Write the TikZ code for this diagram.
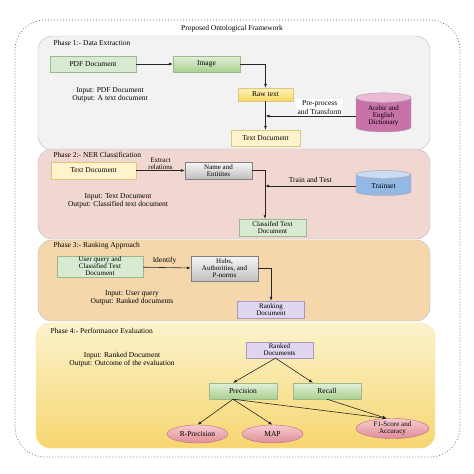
\documentclass[tikz,border=0pt]{standalone}
\usepackage{fontspec}
\setmainfont{Liberation Serif}
\usetikzlibrary{arrows.meta,positioning,calc,shapes.geometric}
\definecolor{phaseone}{HTML}{F2F2F2}
\definecolor{phasetwo}{HTML}{F2D6D1}
\definecolor{phasethree}{HTML}{F4D8AC}
\definecolor{phasefourtop}{HTML}{FCF3CC}
\definecolor{phasefourbot}{HTML}{F6D670}
\definecolor{lightgreen}{HTML}{D9EAD3}
\definecolor{greentop}{HTML}{E2EFDA}
\definecolor{greenbot}{HTML}{A9D18E}
\definecolor{greenline}{HTML}{9DB98C}
\definecolor{lightyellow}{HTML}{FFF3CC}
\definecolor{yellowtop}{HTML}{FFF2B8}
\definecolor{yellowbot}{HTML}{F7D865}
\definecolor{yellowline}{HTML}{D9C782}
\definecolor{lavender}{HTML}{E0D6F0}
\definecolor{lavline}{HTML}{A898C0}
\definecolor{pinktop}{HTML}{F6CBD0}
\definecolor{pinkbot}{HTML}{E08C98}
\definecolor{pinkline}{HTML}{B87080}
\definecolor{dictbody}{HTML}{C872AA}
\definecolor{dictend}{HTML}{EBB8D6}
\definecolor{trainbody}{HTML}{93B8E4}
\definecolor{trainend}{HTML}{C9DCF3}
\tikzset{
  flowarr/.style={-{Latex[length=4pt,width=3pt]}, draw=black!85, line width=0.6pt},
  flowbox/.style={draw=gray!60, align=center, inner sep=1pt, minimum width=67pt, minimum height=16pt},
  phasebox/.style={draw=gray!55, rounded corners=14pt},
  flowsmall/.style={font=\fontsize{7}{7}\selectfont},
}

\begin{document}
\begin{tikzpicture}[
  x=1pt, y=-1pt,
  font=\fontsize{7.5}{8.3}\selectfont,
  greenbox/.style={flowbox, draw=greenline, top color=greentop, bottom color=greenbot},
  graybox/.style={flowbox, draw=gray, top color=gray!6, bottom color=gray!50},
  store/.style={cylinder, shape border rotate=90, aspect=0.25, draw=gray!70, align=center, cylinder uses custom fill},
  result/.style={ellipse, draw=pinkline, top color=pinktop, bottom color=pinkbot, align=center, inner sep=0pt},
]
  \useasboundingbox (0,0) rectangle (474,474);
  \draw[gray!60!black, line width=1pt, dash pattern=on 0pt off 3pt, line cap=round, rounded corners=30pt] (15,20) rectangle (460,457);
  \node (title) at (232,29) {Proposed Ontological Framework};

  % Phase 1
  \draw[phasebox, fill=phaseone] (38,36) rectangle (430,150);
  \node[anchor=west] (p1) at (50,43) {Phase 1:- Data Extraction};
  \node[flowbox, draw=greenline, fill=lightgreen, minimum width=86pt] (pdf) at (93,64) {PDF Document};
  \node[greenbox] (img) at (206.5,64) {Image};
  \node[flowbox, draw=yellowline, top color=yellowtop, bottom color=yellowbot, minimum width=55pt, minimum height=13pt] (raw) at (265.5,94.5) {Raw text};
  \node[flowbox, draw=yellowline, fill=lightyellow, minimum width=69pt] (txt) at (265.5,138) {Text Document};
  \node[store, cylinder body fill=dictbody, cylinder end fill=dictend, minimum width=55pt, minimum height=35pt, flowsmall] (dict) at (383.5,116) {Arabic and\\English\\Dictionary};
  \node[align=center] (io1) at (110,95) {Input: PDF Document\\Output: A text document};

  \draw[flowarr] (pdf) -- (img);
  \draw[flowarr] (img) -| (raw);
  \draw[flowarr] (raw) -- (txt);
  \draw[flowarr] (dict.west) -- node[pos=0.4, above, fill=white, align=center, inner sep=1.5pt] {Pre-process\\and Transform} (dict.west -| raw);

  % Phase 2
  \draw[phasebox, fill=phasetwo] (38,149) rectangle (430,239);
  \node[anchor=west] (p2) at (50,155) {Phase 2:- NER Classification};
  \node[flowbox, draw=yellowline, fill=lightyellow, minimum width=85pt, minimum height=17pt] (txt2) at (93.5,170.5) {Text Document};
  \node[graybox, minimum height=17pt, flowsmall] (ne) at (218.5,170.5) {Name and\\Entitites};
  \node[flowbox, draw=greenline, fill=lightgreen, minimum height=17pt, flowsmall] (cls) at (272.5,227.5) {Classifed Text\\Document};
  \node[store, cylinder body fill=trainbody, cylinder end fill=trainend, minimum width=55pt, minimum height=25pt] (train) at (383.5,186) {Trainset};
  \node[align=center] (io2) at (118,201) {Input: Text Document\\Output: Classified text document};
  \coordinate (clsin) at ([xshift=-7.5pt]cls.north);

  \draw[flowarr] (txt2) -- node[above, align=center, inner sep=1pt, flowsmall] {Extract\\relations} (ne);
  \draw[flowarr] (ne.east) -| (clsin);
  \draw[flowarr] (train.west) -- node[above] {Train and Test} (train.west -| clsin);

  % Phase 3
  \draw[phasebox, fill=phasethree] (38,240) rectangle (430,321);
  \node[anchor=west] (p3) at (50,246) {Phase 3:- Ranking Approach};
  \node[flowbox, draw=greenline, fill=lightgreen, minimum width=86pt, minimum height=21pt, flowsmall] (uq) at (100,266.5) {User query and\\Classified Text\\Document};
  \node[graybox, minimum height=25pt, flowsmall] (hubs) at (224.5,268.5) {Hubs,\\Authorities, and\\P-norms};
  \node[flowbox, draw=lavline, fill=lavender, minimum height=17pt, flowsmall] (rank) at (271,309.5) {Ranking\\Document};
  \node[align=center] (io3) at (132,298) {Input: User query\\Output: Ranked documents};

  \draw[flowarr] (uq) -- node[above, pos=0.45] {Identify} (hubs);
  \draw[flowarr] (hubs) -| (rank);

  % Phase 4
  \draw[draw=phasefourbot!60, rounded corners=14pt, top color=phasefourtop, bottom color=phasefourbot] (36,323) rectangle (435,448);
  \node[anchor=west] (p4) at (47,331) {Phase 4:- Performance Evaluation};
  \node[flowbox, draw=lavline, fill=lavender, flowsmall] (rkd) at (279.5,350) {Ranked\\Documents};
  \node[greenbox, minimum width=68pt] (prec) at (243,391) {Precision};
  \node[greenbox, minimum width=68pt] (rec) at (327,391) {Recall};
  \node[result, minimum width=61pt, minimum height=18pt] (rprec) at (197.5,434) {R-Precision};
  \node[result, minimum width=61pt, minimum height=18pt] (map) at (272.5,434) {MAP};
  \node[result, minimum width=73pt, minimum height=20pt, flowsmall] (f1) at (392.5,428.5) {F1-Score and\\Accuracy};
  \node[align=center] (io4) at (122,360) {Input: Ranked Document\\Output: Outcome of the evaluation};

  \draw[flowarr] ([xshift=-4pt]rkd.south) -- ([xshift=-10pt]prec.north);
  \draw[flowarr] ([xshift=-4pt]rkd.south) -- ([xshift=-14pt]rec.north);
  \draw[flowarr] ([xshift=-10pt]prec.south) -- (rprec.north);
  \draw[flowarr] ([xshift=-10pt]prec.south) -- (map.north);
  \draw[flowarr] ([xshift=-10pt]prec.south) -- (f1.120);
  \draw[flowarr] (rec.south) -- (f1.120);

\end{tikzpicture}
\end{document}
